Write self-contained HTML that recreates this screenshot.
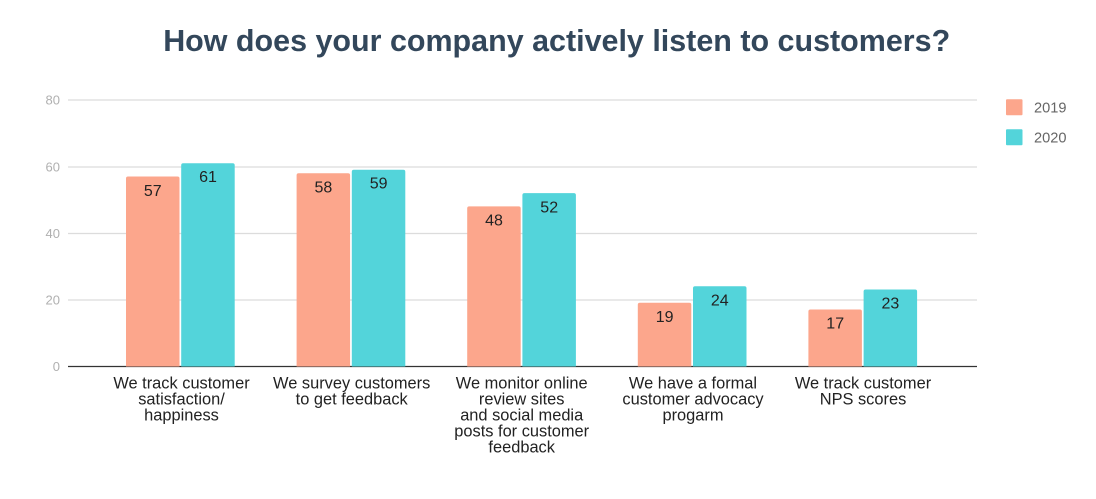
<!DOCTYPE html>
<html>
<head>
<meta charset="utf-8">
<style>
  html,body{margin:0;padding:0;background:#fff;}
  svg{display:block;}
  text{font-family:"Liberation Sans",Arial,sans-serif;}
</style>
</head>
<body>
<svg width="1096" height="499" viewBox="0 0 1096 499" xmlns="http://www.w3.org/2000/svg">
  <rect width="1096" height="499" fill="#fff"/>
  <!-- Title -->
  <text x="556.7" y="51" text-anchor="middle" font-size="31" font-weight="bold" fill="#33475b" textLength="787" lengthAdjust="spacingAndGlyphs">How does your company actively listen to customers?</text>

  <!-- gridlines -->
  <g stroke="#dcdcdc" stroke-width="1.2">
    <line x1="68" y1="100" x2="977" y2="100"/>
    <line x1="68" y1="167" x2="977" y2="167"/>
    <line x1="68" y1="233.5" x2="977" y2="233.5"/>
    <line x1="68" y1="300" x2="977" y2="300"/>
  </g>
  <!-- y labels -->
  <g font-size="13" fill="#b0b0b0" text-anchor="end">
    <text x="60" y="104.5">80</text>
    <text x="60" y="171.5">60</text>
    <text x="60" y="238">40</text>
    <text x="60" y="304.5">20</text>
    <text x="60" y="371">0</text>
  </g>
  <!-- axis line -->
  <line x1="68" y1="366.5" x2="977" y2="366.5" stroke="#333" stroke-width="1.2"/>

  <!-- bars -->
  <g fill="#fca68c">
    <path d="M126,366.5 V178.5 Q126,176.5 128,176.5 H177.5 Q179.5,176.5 179.5,178.5 V366.5 Z"/>
    <path d="M296.6,366.5 V175.2 Q296.6,173.2 298.6,173.2 H348.1 Q350.1,173.2 350.1,175.2 V366.5 Z"/>
    <path d="M467.2,366.5 V208.4 Q467.2,206.4 469.2,206.4 H518.7 Q520.7,206.4 520.7,208.4 V366.5 Z"/>
    <path d="M637.8,366.5 V304.8 Q637.8,302.8 639.8,302.8 H689.3 Q691.3,302.8 691.3,304.8 V366.5 Z"/>
    <path d="M808.4,366.5 V311.5 Q808.4,309.5 810.4,309.5 H859.9 Q861.9,309.5 861.9,311.5 V366.5 Z"/>
  </g>
  <g fill="#53d4da">
    <path d="M181.2,366.5 V165.2 Q181.2,163.2 183.2,163.2 H232.7 Q234.7,163.2 234.7,165.2 V366.5 Z"/>
    <path d="M351.8,366.5 V171.8 Q351.8,169.8 353.8,169.8 H403.3 Q405.3,169.8 405.3,171.8 V366.5 Z"/>
    <path d="M522.4,366.5 V195.1 Q522.4,193.1 524.4,193.1 H573.9 Q575.9,193.1 575.9,195.1 V366.5 Z"/>
    <path d="M693,366.5 V288.2 Q693,286.2 695,286.2 H744.5 Q746.5,286.2 746.5,288.2 V366.5 Z"/>
    <path d="M863.6,366.5 V291.5 Q863.6,289.5 865.6,289.5 H915.1 Q917.1,289.5 917.1,291.5 V366.5 Z"/>
  </g>

  <!-- data labels -->
  <g font-size="16" fill="#222" text-anchor="middle">
    <text x="152.8" y="196">57</text>
    <text x="208" y="182">61</text>
    <text x="323.4" y="192.5">58</text>
    <text x="378.6" y="188.5">59</text>
    <text x="494" y="225.5">48</text>
    <text x="549.2" y="212.5">52</text>
    <text x="664.6" y="322">19</text>
    <text x="719.8" y="305.5">24</text>
    <text x="835.2" y="328.5">17</text>
    <text x="890.4" y="308.5">23</text>
  </g>

  <!-- category labels -->
  <g font-size="16.4" fill="#222" text-anchor="middle">
    <text x="181.5" y="388.3">We track customer</text>
    <text x="181.5" y="404.3">satisfaction/</text>
    <text x="181.5" y="420.3">happiness</text>

    <text x="351.7" y="388.3">We survey customers</text>
    <text x="351.7" y="404.3">to get feedback</text>

    <text x="521.7" y="388.3">We monitor online</text>
    <text x="521.7" y="404.3">review sites</text>
    <text x="521.7" y="420.3">and social media</text>
    <text x="521.7" y="436.3">posts for customer</text>
    <text x="521.7" y="452.3">feedback</text>

    <text x="693" y="388.3">We have a formal</text>
    <text x="693" y="404.3">customer advocacy</text>
    <text x="693" y="420.3">progarm</text>

    <text x="863" y="388.3">We track customer</text>
    <text x="863" y="404.3">NPS scores</text>
  </g>

  <!-- legend -->
  <rect x="1006" y="99.3" width="16.5" height="16" rx="1" fill="#fca68c"/>
  <rect x="1006" y="129.3" width="16.5" height="16" rx="1" fill="#53d4da"/>
  <g font-size="14.6" fill="#666">
    <text x="1034" y="112.7">2019</text>
    <text x="1034" y="142.5">2020</text>
  </g>
</svg>
</body>
</html>
